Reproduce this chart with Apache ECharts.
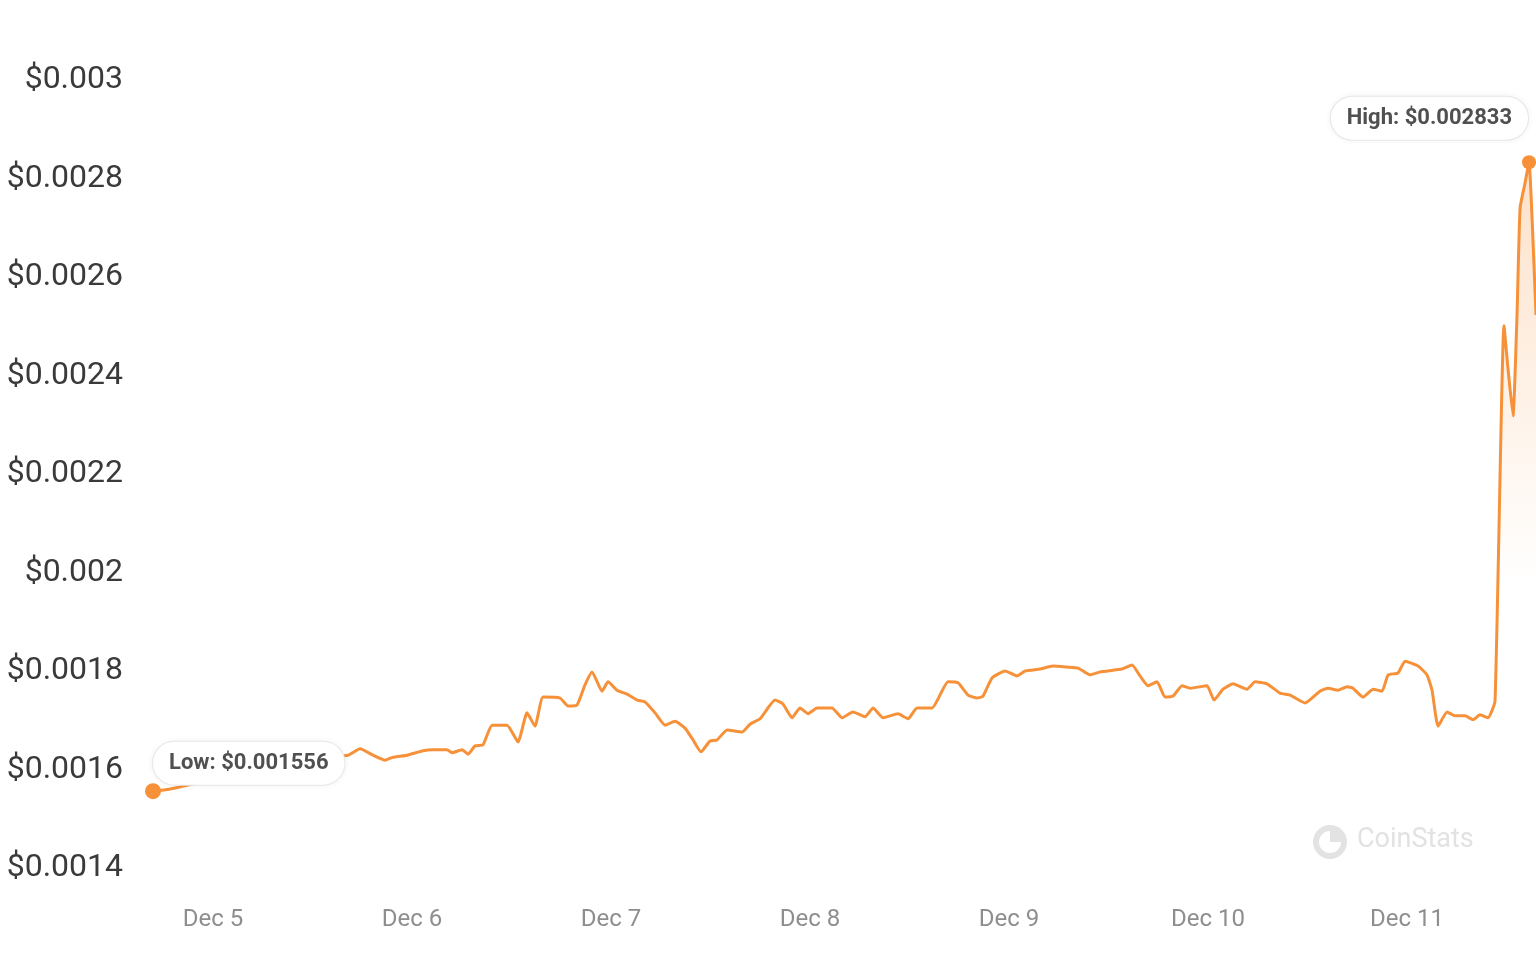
<!DOCTYPE html>
<html>
<head>
<meta charset="utf-8">
<script src="https://cdn.jsdelivr.net/npm/echarts@6/dist/echarts.min.js"></script>
<style>
html,body{margin:0;padding:0;background:#fff;}
#chart{width:1536px;height:954px;}
</style>
</head>
<body>
<div id="chart"></div>
<script>
// hours since Dec 5 00:00
const hours = [-7.24,-5.31,0.84,8.08,14.11,16.28,17.73,19.30,20.74,21.71,23.40,25.33,26.53,28.22,28.82,30.03,30.75,31.60,32.56,33.65,35.46,36.78,37.87,38.83,39.80,41.85,42.81,43.90,44.86,45.71,46.91,47.64,48.72,49.93,51.13,52.10,53.31,54.51,55.72,56.92,57.89,58.85,59.94,60.78,61.99,63.80,64.76,65.97,67.78,68.74,69.83,70.79,71.76,72.84,74.65,75.86,77.18,78.63,79.60,80.80,82.61,83.82,84.90,86.71,88.64,89.85,91.05,92.14,92.86,93.95,95.52,96.96,97.93,99.74,101.30,102.99,104.32,105.77,106.97,109.63,110.83,111.80,112.76,113.85,114.81,115.78,116.86,117.83,119.88,120.72,121.81,123.01,124.70,125.67,127.11,128.68,129.89,131.70,133.50,134.47,135.68,136.76,137.48,138.69,139.90,140.98,141.71,142.91,143.76,145.32,146.41,147.01,147.74,148.82,149.79,150.99,151.96,152.80,153.77,154.61,155.69,156.18,156.78,157.26,157.63,158.23,158.71,159.07,159.55];
const prices = [0.001556,0.001560,0.001583,0.001607,0.001625,0.001629,0.001642,0.001629,0.001619,0.001625,0.001629,0.001638,0.001640,0.001640,0.001634,0.001640,0.001631,0.001648,0.001650,0.001690,0.001690,0.001656,0.001715,0.001688,0.001747,0.001745,0.001729,0.001731,0.001772,0.001798,0.001759,0.001778,0.001761,0.001753,0.001741,0.001737,0.001715,0.001690,0.001698,0.001684,0.001660,0.001636,0.001658,0.001660,0.001680,0.001676,0.001692,0.001703,0.001741,0.001733,0.001705,0.001725,0.001713,0.001725,0.001725,0.001705,0.001717,0.001707,0.001725,0.001705,0.001713,0.001703,0.001725,0.001725,0.001778,0.001776,0.001751,0.001745,0.001749,0.001786,0.001800,0.001790,0.001800,0.001804,0.001810,0.001808,0.001806,0.001792,0.001798,0.001804,0.001812,0.001790,0.001770,0.001778,0.001747,0.001749,0.001770,0.001765,0.001770,0.001741,0.001763,0.001774,0.001763,0.001778,0.001774,0.001755,0.001751,0.001735,0.001759,0.001765,0.001761,0.001768,0.001765,0.001747,0.001763,0.001759,0.001792,0.001796,0.001820,0.001810,0.001792,0.001761,0.001688,0.001717,0.001709,0.001709,0.001701,0.001711,0.001705,0.001739,0.002501,0.002413,0.002318,0.002523,0.002740,0.002791,0.002833,0.002722,0.002523];
const tickHours = [0,24,48,72,96,120,144];
const tickLabels = ['Dec 5','Dec 6','Dec 7','Dec 8','Dec 9','Dec 10','Dec 11'];
const lowValue = 0.001556, highValue = 0.002833;

const ORANGE = '#F69139';
const data = hours.map((h,i)=>[h,prices[i]]);
const lowIdx = prices.indexOf(lowValue), highIdx = prices.indexOf(highValue);

const boxLabel = {
  show:true, color:'#505050', fontFamily:'Roboto', fontWeight:'bold', fontSize:22, lineHeight:23,
  backgroundColor:'#ffffff', borderColor:'#ececec', borderWidth:1, borderRadius:22,
  padding:[10,16], shadowColor:'rgba(0,0,0,0.05)', shadowBlur:6
};

const chart = echarts.init(document.getElementById('chart'));
chart.setOption({
  animation:false,
  backgroundColor:'#ffffff',
  grid:{left:153,right:0,top:80,bottom:86,containLabel:false},
  xAxis:{
    type:'value', min:hours[0], max:hours[hours.length-1],
    axisLine:{show:false}, axisTick:{show:false}, splitLine:{show:false},
    axisLabel:{
      customValues:tickHours, margin:40, color:'#8e8e8e', fontFamily:'Roboto', fontSize:24,
      formatter:(v)=>tickLabels[tickHours.indexOf(Math.round(v))] || ''
    }
  },
  yAxis:{
    type:'value', min:0.0014, max:0.003, interval:0.0002,
    axisLine:{show:false}, axisTick:{show:false}, splitLine:{show:false},
    axisLabel:{margin:30, color:'#3a3a3a', fontFamily:'Roboto', fontSize:32,
      formatter:(v)=>'$'+parseFloat(v.toFixed(4))}
  },
  graphic:[
    {type:'sector', shape:{cx:1330,cy:842,r:17,r0:11,startAngle:0,endAngle:Math.PI*2}, style:{fill:'#e3e3e3'}, z:0},
    {type:'sector', shape:{cx:1330,cy:842,r:12,r0:0,startAngle:-Math.PI/2,endAngle:0}, style:{fill:'#e3e3e3'}, z:0},
    {type:'text', left:1357, top:827, style:{text:'CoinStats', fill:'#e2e2e2', font:'27px Roboto'}, z:0}
  ],
  series:[{
    type:'line', data:data, showSymbol:false, smooth:0.15,
    lineStyle:{color:ORANGE, width:3},
    areaStyle:{color:new echarts.graphic.LinearGradient(0,0,0,1,[
      {offset:0,color:'rgba(246,145,57,0.38)'},
      {offset:0.6,color:'rgba(246,145,57,0)'}
    ])},
    z:2,
    markPoint:{
      symbol:'circle', z:5,
      data:[
        {coord:data[lowIdx], symbolSize:16, itemStyle:{color:ORANGE},
          label:Object.assign({}, boxLabel, {position:'right', distance:0, offset:[-8,-28], formatter:'Low: $'+lowValue})},
        {coord:data[highIdx], symbolSize:14, itemStyle:{color:ORANGE},
          label:Object.assign({}, boxLabel, {position:'left', distance:0, offset:[6,-44], formatter:'High: $'+highValue})}
      ]
    }
  }]
});
</script>
</body>
</html>
